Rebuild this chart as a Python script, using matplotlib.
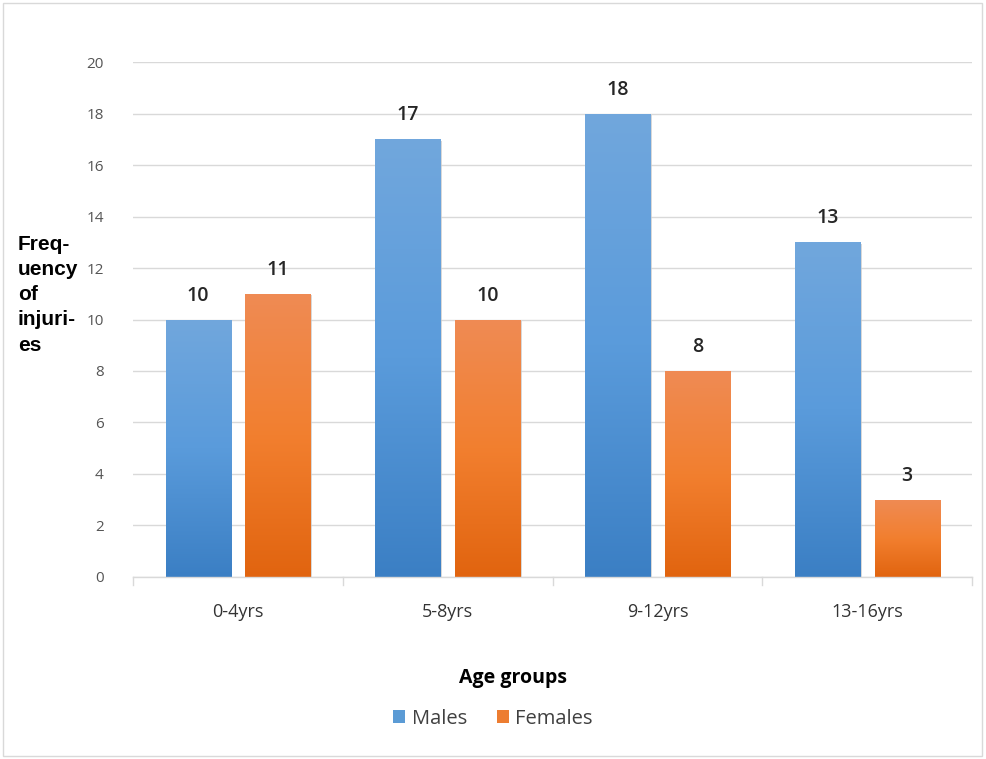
import matplotlib
matplotlib.use("Agg")
import matplotlib.pyplot as plt
import numpy as np
from matplotlib.patches import Patch, Rectangle
from matplotlib.colors import LinearSegmentedColormap

categories = ["0-4yrs", "5-8yrs", "9-12yrs", "13-16yrs"]
males = [10, 17, 18, 13]
females = [11, 10, 8, 3]
series_names = ["Males", "Females"]
y_ticks = [0, 2, 4, 6, 8, 10, 12, 14, 16, 18, 20]

plt.rcParams['font.family'] = ['Open Sans', 'DejaVu Sans']

fig = plt.figure(figsize=(9.86, 7.59), dpi=100)
ax = fig.add_axes([0.1349, 0.2398, 0.851, 0.6785])

x = np.arange(len(categories))
w = 0.31
off = 0.19
bm = ax.bar(x - off, males, w, color="#5b9bd5", zorder=2)
bf = ax.bar(x + off, females, w, color="#ed7d31", zorder=2)

cmap_b = LinearSegmentedColormap.from_list("b", ["#3b7fc4", "#5a9bdb", "#71a7dd"])
cmap_o = LinearSegmentedColormap.from_list("o", ["#e1640f", "#f27f2f", "#ef8b54"])
grad = np.linspace(0, 1, 256).reshape(-1, 1)
for bars, cm in ((bm, cmap_b), (bf, cmap_o)):
    for p in bars:
        x0, y0 = p.get_x(), p.get_y()
        ww, hh = p.get_width(), p.get_height()
        sh = Rectangle((x0 + 0.008, y0), ww, hh - 0.05, facecolor="#c8c8c8",
                       edgecolor="none", zorder=1.5, alpha=0.7)
        ax.add_patch(sh)
        im = ax.imshow(grad, cmap=cm, aspect="auto", origin="lower",
                       extent=(x0, x0 + ww, y0, y0 + hh), zorder=2.1,
                       interpolation="bilinear")
        im.set_clip_path(p)

for bars, vals in ((bm, males), (bf, females)):
    for p, v in zip(bars, vals):
        ax.annotate(str(v), (p.get_x() + p.get_width() / 2, v),
                    xytext=(0, 10), textcoords="offset points",
                    ha="center", va="bottom", fontsize=14, color="#262626",
                    fontweight="semibold")

ax.set_xlim(-0.5, 3.5)
ax.set_ylim(0, 20)
ax.set_yticks(y_ticks)
ax.set_yticklabels([str(t) for t in y_ticks], fontsize=11, color="#555555")
ax.yaxis.grid(True, color="#d9d9d9", linewidth=1.0, zorder=0)
ax.set_axisbelow(True)
ax.tick_params(axis="y", length=0, pad=21)

ax.set_xticks(x)
ax.set_xticklabels(categories, fontsize=13, color="#333333")
ax.tick_params(axis="x", length=0, pad=19)
for b in np.arange(-0.5, 4.0, 1.0):
    ax.plot([b, b], [0, -0.33], color="#d9d9d9", lw=1.0, clip_on=False, zorder=1)

for s in ("top", "right", "left"):
    ax.spines[s].set_visible(False)
ax.spines["bottom"].set_color("#d9d9d9")
ax.spines["bottom"].set_linewidth(1.0)

fig.text(0.018, 0.691, "Freq-\nuency\nof\ninjuri-\nes", fontsize=15, fontweight="bold",
         family="Liberation Sans", ha="left", va="top", linespacing=1.42, color="#000000")
fig.text(0.52, 0.107, "Age groups", fontsize=14, fontweight="bold", ha="center",
         va="center", color="#000000")

handles = [Patch(facecolor="#5b9bd5", edgecolor="none"),
           Patch(facecolor="#ed7d31", edgecolor="none")]
fig.legend(handles, series_names, loc="center", bbox_to_anchor=(0.5, 0.053), ncol=2,
           frameon=False, fontsize=14.5, handlelength=0.6, handleheight=0.6,
           handletextpad=0.3, columnspacing=1.5, labelcolor="#404040")

fig.add_artist(Rectangle((0.003, 0.004), 0.993, 0.992, transform=fig.transFigure,
                         fill=False, edgecolor="#d9d9d9", linewidth=1.0))

fig.savefig("out.png", dpi=100)
